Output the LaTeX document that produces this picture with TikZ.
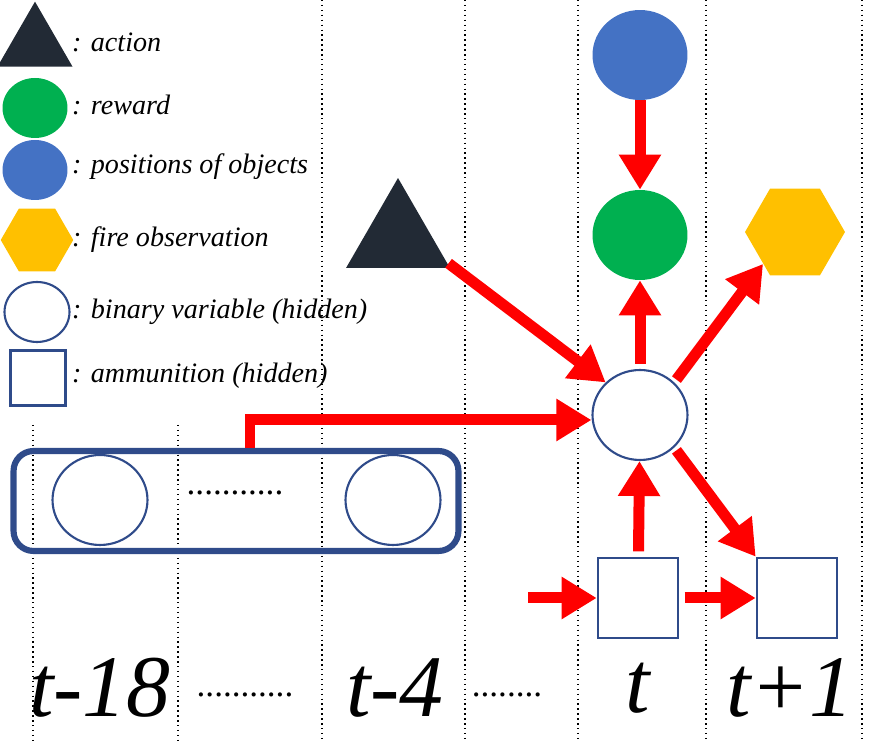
\documentclass[tikz,border=0pt]{standalone}
\usepackage{fontspec}
\setmainfont{Liberation Serif}
\usetikzlibrary{arrows.meta,shapes.geometric}
\definecolor{navy}{HTML}{222A35}
\definecolor{bord}{HTML}{2F4B8A}
\definecolor{grn}{HTML}{00B050}
\definecolor{blu}{HTML}{4472C4}
\definecolor{yel}{HTML}{FFC000}
\tikzset{
  big/.style={draw=none,ellipse,minimum width=1.9cm,minimum height=1.8cm},
  hid/.style={draw=bord,line width=1.2pt,ellipse,minimum width=1.9cm,minimum height=1.8cm},
  box/.style={draw=bord,line width=1.5pt,minimum size=1.6cm},
  hexa/.style={fill=yel,regular polygon,regular polygon sides=6,minimum size=2cm,inner sep=0pt},
  tri/.style={fill=navy,isosceles triangle,isosceles triangle apex angle=60,shape border rotate=90,minimum height=1.8cm,inner sep=0pt},
  red arrow/.style={draw=red,line width=0.22cm,-{Triangle[width=0.8cm,length=0.7cm]}},
  leg/.style={anchor=west,font=\fontsize{16}{18}\selectfont\itshape},
  tlab/.style={font=\fontsize{50}{52}\selectfont\itshape}
}
\begin{document}
\begin{tikzpicture}[x=0.02cm,y=-0.02cm]
\useasboundingbox (0,0) rectangle (877,742);
% time grid
\foreach \x in {322,465,578,706,862}
  \draw[dotted,thick] (\x,0) -- (\x,742);
\foreach \x in {33,178}
  \draw[dotted,thick] (\x,425) -- (\x,742);

% legend
\node[tri,minimum height=1.3cm] (ltri) at (35,45) {};
\node[leg] at (66,42) {: action};
\node[big,fill=grn,minimum width=1.3cm,minimum height=1.2cm] (lgrn) at (35,108) {};
\node[leg] at (66,105) {: reward};
\node[big,fill=blu,minimum width=1.3cm,minimum height=1.2cm] (lblu) at (35,170) {};
\node[leg] at (66,167) {: positions of objects};
\node[hexa,minimum size=1.45cm] (lhex) at (37,240) {};
\node[leg] at (66,240) {: fire observation};
\node[hid,minimum width=1.3cm,minimum height=1.2cm] (lhid) at (37,312) {};
\node[leg] at (66,312) {: binary variable (hidden)};
\node[box,minimum size=1.1cm] (lbox) at (38,378) {};
\node[leg] at (66,376) {: ammunition (hidden)};

% past block
\node[draw=bord,line width=3.5pt,rounded corners=0.4cm,minimum width=8.9cm,minimum height=2cm] (past) at (236,501) {};
\node[hid] (h18) at (100,500) {};
\node[hid] (h4) at (393,500) {};
\node[font=\fontsize{20}{20}\selectfont] at (235,493) {...........};

% time t
\node[big,fill=blu] (pos) at (640,55) {};
\node[big,fill=grn] (rew) at (640,235) {};
\node[hexa] (fire) at (795,232) {};
\node[tri] (act) at (398,238) {};
\node[hid] (bin) at (640,415) {};
\node[box] (amm) at (638,598) {};
\node[box] (amm1) at (797,598) {};
\coordinate (in) at (528,598);
\coordinate (bend) at (250,420);

% arrows
\draw[red arrow] (pos) -- (rew);
\draw[red arrow,shorten <=3pt] (bin) -- (rew);
\draw[red arrow] (act.right corner) ++(-2,-5) -- (bin.north west);
\draw[red arrow,shorten <=2pt] (bin.north east) -- (fire.south west);
\draw[red arrow,shorten <=2pt] (bin.south east) -- (amm1.north west);
\draw[red arrow,shorten <=3pt] (amm) -- (bin);
\draw[red arrow] (in) -- (amm);
\draw[red arrow,shorten <=3pt] (amm) -- (amm1);
\draw[red arrow] (past.north -| bend) -- (bend) -- (bend -| bin.west);

% time labels
\node[tlab] (l18) at (100,688) {t-18};
\node[font=\fontsize{20}{20}\selectfont] at (245,695) {...........};
\node[tlab] (l4) at (395,688) {t-4};
\node[font=\fontsize{20}{20}\selectfont] at (507,695) {........};
\node[tlab] (lt) at (638,688) {t};
\node[tlab] (lt1) at (790,688) {t+1};
\end{tikzpicture}
\end{document}
